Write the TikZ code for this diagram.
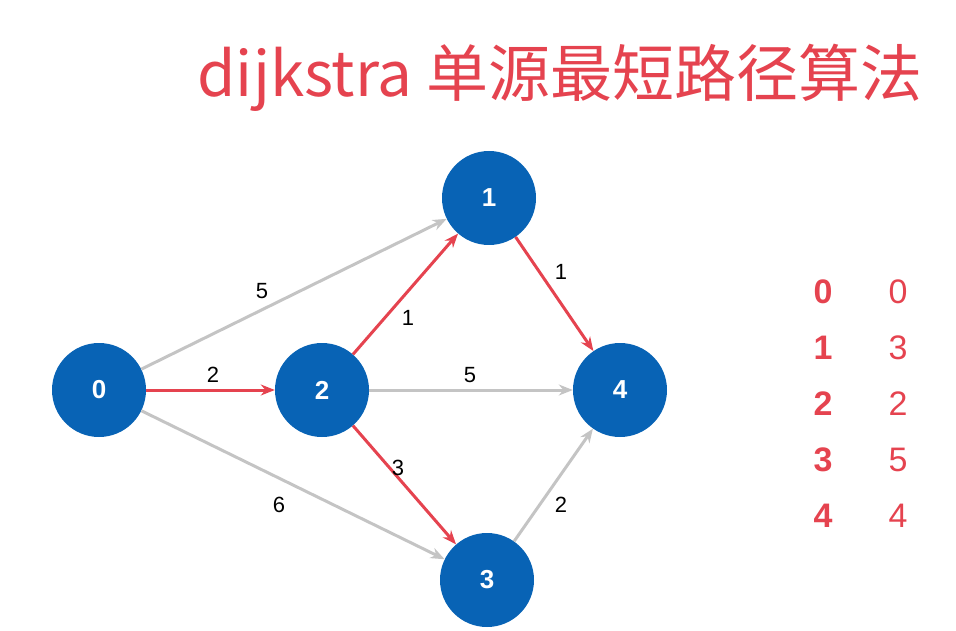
\documentclass[tikz,border=0pt]{standalone}
\usepackage{fontspec}
\setmainfont{Liberation Sans}
\newfontfamily\cjk{Noto Sans CJK SC}
\usetikzlibrary{arrows.meta}
\definecolor{nblue}{HTML}{0863B5}
\definecolor{ered}{HTML}{E5434F}
\definecolor{egray}{HTML}{C4C4C4}
\begin{document}
\begin{tikzpicture}[x=1pt,y=-1pt,
  vert/.style={circle,fill=nblue,minimum size=94pt,inner sep=0pt,text=white,font=\bfseries\fontsize{26}{30}\selectfont},
  gedge/.style={egray,line width=3pt,-{Stealth[length=14pt,width=11pt]}},
  redge/.style={ered,line width=3pt,-{Stealth[length=14pt,width=11pt]}},
  lab/.style={font=\fontsize{22}{26}\selectfont},
  tk/.style={text=ered,font=\bfseries\fontsize{34}{40}\selectfont},
  tv/.style={text=ered,font=\fontsize{34}{40}\selectfont}]
\useasboundingbox (0,0) rectangle (956,631);
\node[text=ered,font=\cjk\fontsize{62}{70}\selectfont] (title) at (560,78) {dijkstra 单源最短路径算法};
\node[vert] (n0) at (99,390) {0};
\node[vert] (n2) at (322,390) {2};
\node[vert] (n1) at (489,198) {1};
\node[vert] (n4) at (620,390) {4};
\node[vert] (n3) at (487,580) {3};
\draw[gedge] (n0) -- (n1);
\draw[gedge] (n0) -- (n3);
\draw[gedge] (n2) -- (n4);
\draw[gedge] (n3) -- (n4);
\draw[redge] (n0) -- (n2);
\draw[redge] (n2) -- (n1);
\draw[redge] (n2) -- (n3);
\draw[redge] (n1) -- (n4);
\node[lab] (l01) at (262,291) {5};
\node[lab] (l02) at (213,375) {2};
\node[lab] (l03) at (279,505) {6};
\node[lab] (l21) at (408,318) {1};
\node[lab] (l24) at (470,375) {5};
\node[lab] (l23) at (398,468) {3};
\node[lab] (l14) at (561,272) {1};
\node[lab] (l34) at (561,505) {2};
\foreach \k/\v/\y in {0/0/292,1/3/348,2/2/404,3/5/460,4/4/516}{
  \node[tk] (k\k) at (823,\y) {\k};
  \node[tv] (v\k) at (898,\y) {\v};
}
\end{tikzpicture}
\end{document}
